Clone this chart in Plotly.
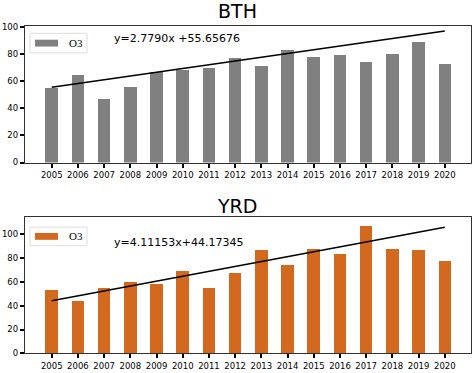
import plotly.graph_objects as go

years = [str(y) for y in range(2005, 2021)]
bth_o3 = [55.9, 65.1, 47.7, 56.4, 67.6, 69.2, 70.5, 77.5, 71.9, 84.0, 78.2, 79.7, 74.6, 80.4, 89.8, 73.1]
yrd_o3 = [52.6, 43.6, 55.0, 60.0, 58.0, 68.7, 54.5, 67.0, 86.6, 73.8, 87.5, 82.8, 106.5, 87.5, 86.6, 77.1]
bth_fit = (2.7790, 55.65676)
yrd_fit = (4.11153, 44.17345)
bth_eq = "y=2.7790x +55.65676"
yrd_eq = "y=4.11153x+44.17345"
titles = ["BTH", "YRD"]

W, H = 474, 373
idx = list(range(len(years)))

def py(px):
    return 1 - px / H

fig = go.Figure()

fig.add_trace(go.Bar(x=idx, y=bth_o3, width=0.48, marker=dict(color="#808080", line=dict(width=0)),
                     name="O3", xaxis="x", yaxis="y", showlegend=False))
fig.add_trace(go.Scatter(x=[0, 15], y=[bth_fit[1], bth_fit[0] * 15 + bth_fit[1]], mode="lines",
                         line=dict(color="black", width=1.5), xaxis="x", yaxis="y", showlegend=False))
fig.add_trace(go.Bar(x=idx, y=yrd_o3, width=0.48, marker=dict(color="#D2691E", line=dict(width=0)),
                     name="O3", xaxis="x2", yaxis="y2", showlegend=False))
fig.add_trace(go.Scatter(x=[0, 15], y=[yrd_fit[1], yrd_fit[0] * 15 + yrd_fit[1]], mode="lines",
                         line=dict(color="black", width=1.5), xaxis="x2", yaxis="y2", showlegend=False))

xdom = [25 / W, 471 / W]
axis_common = dict(showgrid=False, zeroline=False, showline=True, linecolor="#333333", linewidth=1.2,
                   mirror=True, ticks="outside", ticklen=4, tickwidth=1.5, tickcolor="black",
                   tickfont=dict(family="DejaVu Sans", size=8.5, color="black"))

fig.update_layout(
    width=W, height=H, margin=dict(l=0, r=0, t=0, b=0),
    plot_bgcolor="white", paper_bgcolor="white", bargap=0,
    xaxis=dict(domain=xdom, anchor="y", range=[-1.02, 16.0], tickmode="array", tickvals=idx, ticktext=years, **axis_common),
    yaxis=dict(domain=[py(163), py(23)], anchor="x", range=[0, 101.45], tickvals=[0, 20, 40, 60, 80, 100], **axis_common),
    xaxis2=dict(domain=xdom, anchor="y2", range=[-1.02, 16.0], tickmode="array", tickvals=idx, ticktext=years, **axis_common),
    yaxis2=dict(domain=[py(358), py(219)], anchor="x2", range=[0, 114.2], tickvals=[0, 20, 40, 60, 80, 100], **axis_common),
)

# titles
fig.add_annotation(text=titles[0], x=237 / W, y=py(8), xref="paper", yref="paper", showarrow=False,
                   font=dict(family="DejaVu Sans", size=19, color="black"), xanchor="center", yanchor="middle")
fig.add_annotation(text=titles[1], x=237 / W, y=py(207), xref="paper", yref="paper", showarrow=False,
                   font=dict(family="DejaVu Sans", size=19, color="black"), xanchor="center", yanchor="middle")
# equations
fig.add_annotation(text=bth_eq, x=112 / W, y=py(36), xref="paper", yref="paper", showarrow=False,
                   font=dict(family="DejaVu Sans", size=11, color="black"), xanchor="left", yanchor="middle")
fig.add_annotation(text=yrd_eq, x=112 / W, y=py(245), xref="paper", yref="paper", showarrow=False,
                   font=dict(family="DejaVu Sans", size=11, color="black"), xanchor="left", yanchor="middle")

# legends (boxes drawn as shapes, with patch and text)
for (top, bot, color) in [(31, 51, "#808080"), (229, 248, "#D2691E")]:
    fig.add_shape(type="rect", xref="paper", yref="paper", x0=30 / W, x1=87 / W, y0=py(bot), y1=py(top),
                  line=dict(color="#dddddd", width=1), fillcolor="rgba(255,255,255,0.8)", layer="above")
    mid = (top + bot) / 2
    fig.add_shape(type="rect", xref="paper", yref="paper", x0=35 / W, x1=58 / W, y0=py(mid + 3.5), y1=py(mid - 3.5),
                  line=dict(width=0), fillcolor=color, layer="above")
    fig.add_annotation(text="O3", x=67 / W, y=py(mid), xref="paper", yref="paper", showarrow=False,
                       font=dict(family="Liberation Serif", size=11, color="black"), xanchor="left", yanchor="middle")

fig.write_html("out.html", config={"displayModeBar": False},
               post_script="document.body.style.margin='0';document.body.style.overflow='hidden';")
